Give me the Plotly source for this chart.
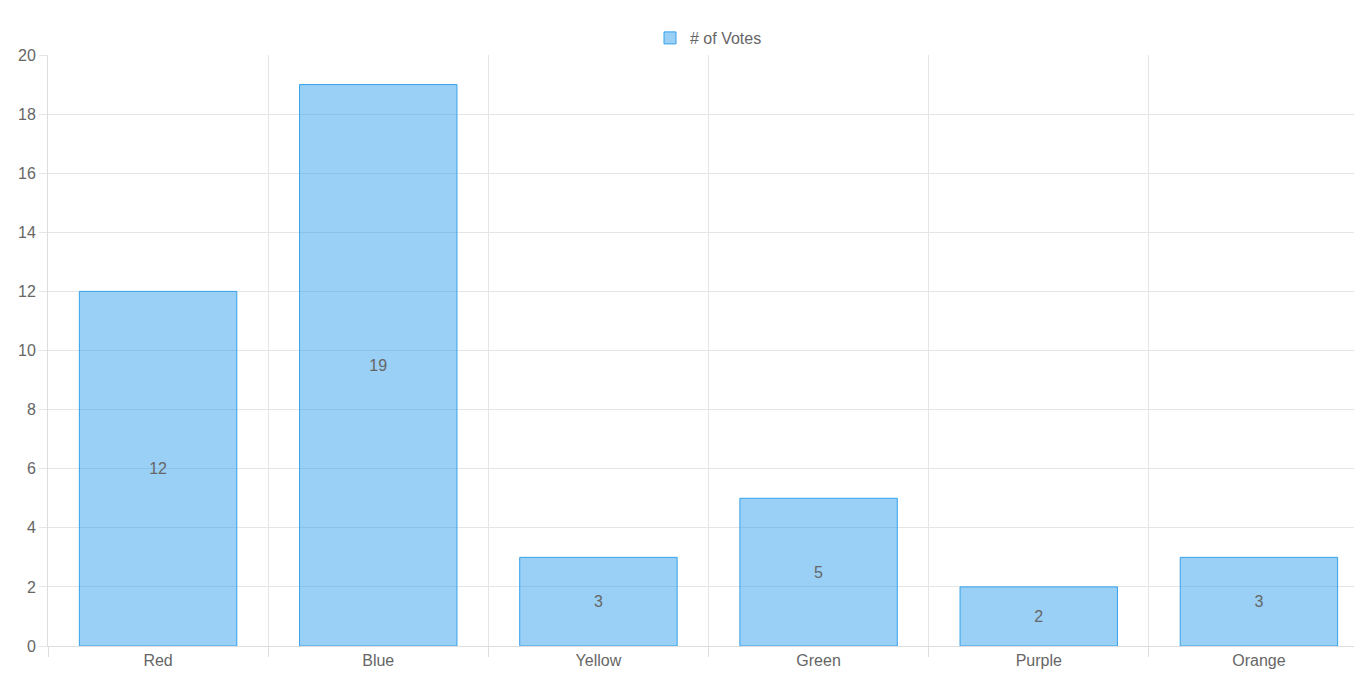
import plotly.graph_objects as go

categories = ["Red", "Blue", "Yellow", "Green", "Purple", "Orange"]
votes = [12, 19, 3, 5, 2, 3]
positions = list(range(len(categories)))

fig = go.Figure(go.Bar(
    x=positions, y=votes, name="# of Votes", text=votes,
    textposition="inside", insidetextanchor="middle",
    textfont=dict(color="#666", size=16),
    marker=dict(color="rgba(54,162,235,0.5)", line=dict(color="rgb(54,162,235)", width=1)),
    width=0.715,
))
fig.update_layout(
    width=1362, height=681, plot_bgcolor="white", paper_bgcolor="white",
    margin=dict(l=40, r=1, t=47, b=43),
    font=dict(family="Liberation Sans, Arial", color="#666", size=16),
    showlegend=True,
    legend=dict(orientation="h", x=0.5, xanchor="center", y=1.0, yanchor="bottom",
                font=dict(size=16, color="#666")),
    xaxis=dict(range=[-0.5, 5.5], tickvals=positions, ticktext=categories, showgrid=False,
               showline=True, linecolor="#ddd", ticks="", zeroline=False,
               minor=dict(tick0=0.5, dtick=1, showgrid=True, gridcolor="#e5e5e5",
                          ticks="outside", ticklen=10, tickcolor="#ddd")),
    yaxis=dict(range=[0, 20], dtick=2, gridcolor="#e5e5e5", showline=True, linecolor="#ddd",
               zeroline=False, ticks="outside", ticklen=8, tickcolor="#e5e5e5"),
)
fig.write_html("out.html")
